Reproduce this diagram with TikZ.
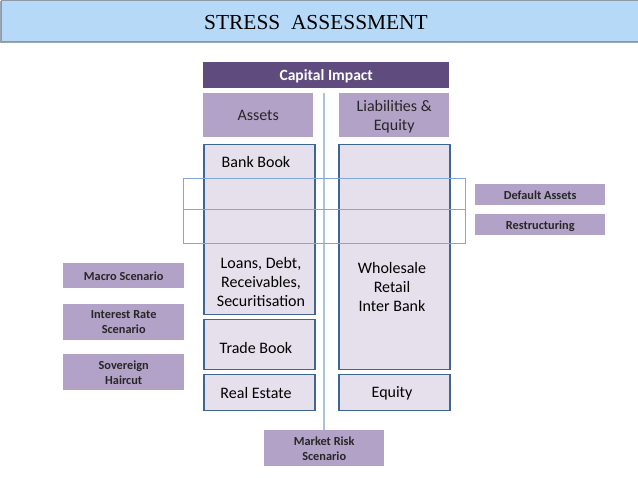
\documentclass[tikz,border=0pt]{standalone}
\usepackage{fontspec}
\setmainfont{Carlito}
\newfontfamily\titlefont{Liberation Serif}
\definecolor{titlebg}{HTML}{B5D9F7}
\definecolor{titleedge}{HTML}{6F8090}
\definecolor{darkpurple}{HTML}{5F4B7E}
\definecolor{midpurple}{HTML}{B3A2C7}
\definecolor{lightpurple}{HTML}{E6E0EC}
\definecolor{boxedge}{HTML}{3F6592}
\definecolor{bandline}{HTML}{7FA8D8}
\definecolor{vline}{HTML}{A9C3DD}
\definecolor{labeltext}{HTML}{262626}
\tikzset{
  hdr/.style={fill=midpurple, draw=none, font=\fontsize{16}{19.5}\selectfont, text=labeltext, align=center, text depth=0pt},
  bookbox/.style={fill=lightpurple, draw=boxedge, line width=1.5pt},
  tag/.style={fill=midpurple, draw=none, font=\bfseries\fontsize{12.3}{15}\selectfont, text=labeltext, align=center, inner sep=0pt, text depth=0pt},
  booktext/.style={font=\fontsize{16}{19}\selectfont, text=black, align=center},
}
\begin{document}
\begin{tikzpicture}[x=1pt,y=-1pt]
\useasboundingbox (0,0) rectangle (638,478);
% title
\fill[titleedge!70] (0,1) rectangle (638,43);
\node[draw=titleedge!80, fill=titlebg, minimum width=637pt, minimum height=41pt, inner sep=0pt, anchor=north west] (title) at (0.5,0.5) {};
\node[font=\titlefont\fontsize{21.4}{24}\selectfont] (titletext) at (316,22.5) {STRESS\ \ ASSESSMENT};
% capital impact
\node[fill=darkpurple, minimum width=246pt, minimum height=26pt, inner sep=0pt, anchor=north west, text=white, text depth=0pt, font=\bfseries\fontsize{15.6}{18}\selectfont] (cap) at (203,62) {Capital Impact};
% vertical line
\coordinate (vtop) at (324,93);
\node[tag, minimum width=120pt, minimum height=36pt, anchor=north west] (mrs) at (264,430) {Market Risk\\Scenario};
\draw[vline, line width=1.2pt] (vtop) -- (mrs.north -| vtop);
% headers
\node[hdr, minimum width=110pt, minimum height=44pt, anchor=north west, inner sep=0pt] (assets) at (203,93) {Assets};
\node[hdr, minimum width=110pt, minimum height=44pt, anchor=north west, inner sep=0pt] (liab) at (339,93) {Liabilities \&\\Equity};
% book boxes
\node[bookbox, minimum width=111pt, minimum height=170pt, anchor=north west, inner sep=0pt] (bank) at (203,144) {};
\node[bookbox, minimum width=111pt, minimum height=50pt, anchor=north west, inner sep=0pt] (trade) at (203,319) {};
\node[bookbox, minimum width=111pt, minimum height=36pt, anchor=north west, inner sep=0pt] (real) at (203,374) {};
\node[bookbox, minimum width=111pt, minimum height=225pt, anchor=north west, inner sep=0pt] (right) at (338,144) {};
\node[bookbox, minimum width=111pt, minimum height=36pt, anchor=north west, inner sep=0pt] (equity) at (338,374) {};
% texts
\node[booktext] (banktxt) at (256,162.5) {Bank Book};
\node[booktext] (loans) at (261,282.5) {Loans, Debt,\\Receivables,\\Securitisation};
\node[booktext] (whole) at (392,287.5) {Wholesale\\Retail\\Inter Bank};
\node[booktext] (tradetxt) at (256,348.5) {Trade Book};
\node[booktext] (realtxt) at (256,393.5) {Real Estate};
\node[booktext] (eqtxt) at (392,393.5) {Equity};
% bands
\draw[bandline, line width=0.8pt] (183,178) rectangle (465,209);
\draw[bandline, line width=0.8pt] (183,209) rectangle (465,243);
% right tags
\node[tag, minimum width=130pt, minimum height=21pt, anchor=north west] (def) at (475,184) {Default Assets};
\node[tag, minimum width=130pt, minimum height=21pt, anchor=north west] (restr) at (475,214) {Restructuring};
% left tags
\node[tag, minimum width=121pt, minimum height=25pt, anchor=north west] (macro) at (63,263) {Macro Scenario};
\node[tag, minimum width=121pt, minimum height=36pt, anchor=north west] (irs) at (63,304) {Interest Rate\\Scenario};
\node[tag, minimum width=121pt, minimum height=36pt, anchor=north west] (sov) at (63,354) {Sovereign\\Haircut};
\end{tikzpicture}
\end{document}
